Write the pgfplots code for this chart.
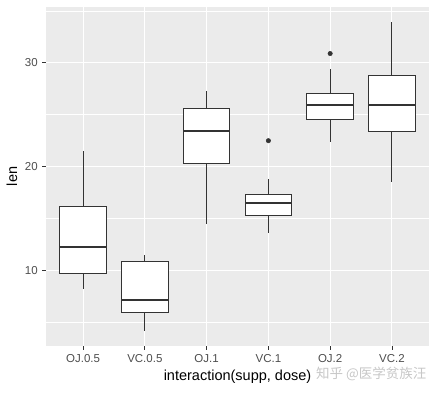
\documentclass[border=0pt]{standalone}
\usepackage{fontspec}
\setmainfont{Liberation Sans}
\newfontfamily\cjk{Noto Sans CJK SC}
\usepackage{pgfplots}
\pgfplotsset{compat=1.18}
\usepgfplotslibrary{statistics}
\definecolor{panelbg}{HTML}{EBEBEB}
\definecolor{grey20}{HTML}{333333}
\definecolor{grey30}{HTML}{4D4D4D}
\begin{document}
\begin{tikzpicture}
\useasboundingbox (-46bp,-47bp) rectangle (391bp,346bp);
\begin{axis}[
  scale only axis,
  width=383bp, height=339bp,
  xmin=0.4, xmax=6.6,
  ymin=2.715, ymax=35.385,
  xtick={1,2,3,4,5,6},
  xticklabels={OJ.0.5,VC.0.5,OJ.1,VC.1,OJ.2,VC.2},
  ytick={10,20,30},
  minor ytick={5,15,25,35},
  minor tick length=0pt,
  major tick length=3.7bp,
  tick align=outside,
  xtick pos=left, ytick pos=left,
  tick style={grey20, line width=0.8bp},
  axis line style={draw=none},
  axis background/.style={fill=panelbg},
  grid=both,
  major grid style={white, line width=1.1bp},
  minor grid style={white, line width=0.55bp},
  /pgf/number format/assume math mode=true,
  tick label style={font=\fontsize{11.5bp}{13bp}\selectfont, text=grey30},
  xticklabel style={yshift=-1bp},
  yticklabel style={xshift=-1bp},
  xlabel={interaction(supp, dose)},
  ylabel={len},
  every axis x label/.style={at={(axis description cs:0.5,-0.0914)}, anchor=center, font=\fontsize{14.5bp}{17bp}\selectfont, text=black},
  every axis y label/.style={at={(axis description cs:-0.0888,0.5)}, anchor=center, rotate=90, font=\fontsize{14.5bp}{17bp}\selectfont, text=black},
  boxplot/draw direction=y,
  boxplot/box extend=0.75,
  boxplot/whisker extend=0,
  clip=false,
]
\addplot[boxplot prepared={draw position=1, lower whisker=8.2, lower quartile=9.7, median=12.25, upper quartile=16.175, upper whisker=21.5}, draw=grey20, fill=white, line width=1bp, boxplot/every median/.style={line width=2bp}] coordinates {};
\addplot[boxplot prepared={draw position=2, lower whisker=4.2, lower quartile=5.95, median=7.15, upper quartile=10.9, upper whisker=11.5}, draw=grey20, fill=white, line width=1bp, boxplot/every median/.style={line width=2bp}] coordinates {};
\addplot[boxplot prepared={draw position=3, lower whisker=14.5, lower quartile=20.3, median=23.45, upper quartile=25.65, upper whisker=27.3}, draw=grey20, fill=white, line width=1bp, boxplot/every median/.style={line width=2bp}] coordinates {};
\addplot[boxplot prepared={draw position=4, lower whisker=13.6, lower quartile=15.275, median=16.5, upper quartile=17.3, upper whisker=18.8}, draw=grey20, fill=white, line width=1bp, mark=*, mark size=2.2bp, mark options={fill=grey20, draw=grey20, line width=0.5bp}, boxplot/every median/.style={line width=2bp}] coordinates {(0,22.5)};
\addplot[boxplot prepared={draw position=5, lower whisker=22.4, lower quartile=24.575, median=25.95, upper quartile=27.075, upper whisker=29.4}, draw=grey20, fill=white, line width=1bp, mark=*, mark size=2.2bp, mark options={fill=grey20, draw=grey20, line width=0.5bp}, boxplot/every median/.style={line width=2bp}] coordinates {(0,30.9)};
\addplot[boxplot prepared={draw position=6, lower whisker=18.5, lower quartile=23.375, median=25.95, upper quartile=28.8, upper whisker=33.9}, draw=grey20, fill=white, line width=1bp, boxplot/every median/.style={line width=2bp}] coordinates {};
\node[font=\cjk\fontsize{13.5bp}{16bp}\selectfont, text=black!22, anchor=center] at (axis description cs:0.849,-0.0811) {知乎 @医学贫族汪};
\end{axis}
\end{tikzpicture}
\end{document}
